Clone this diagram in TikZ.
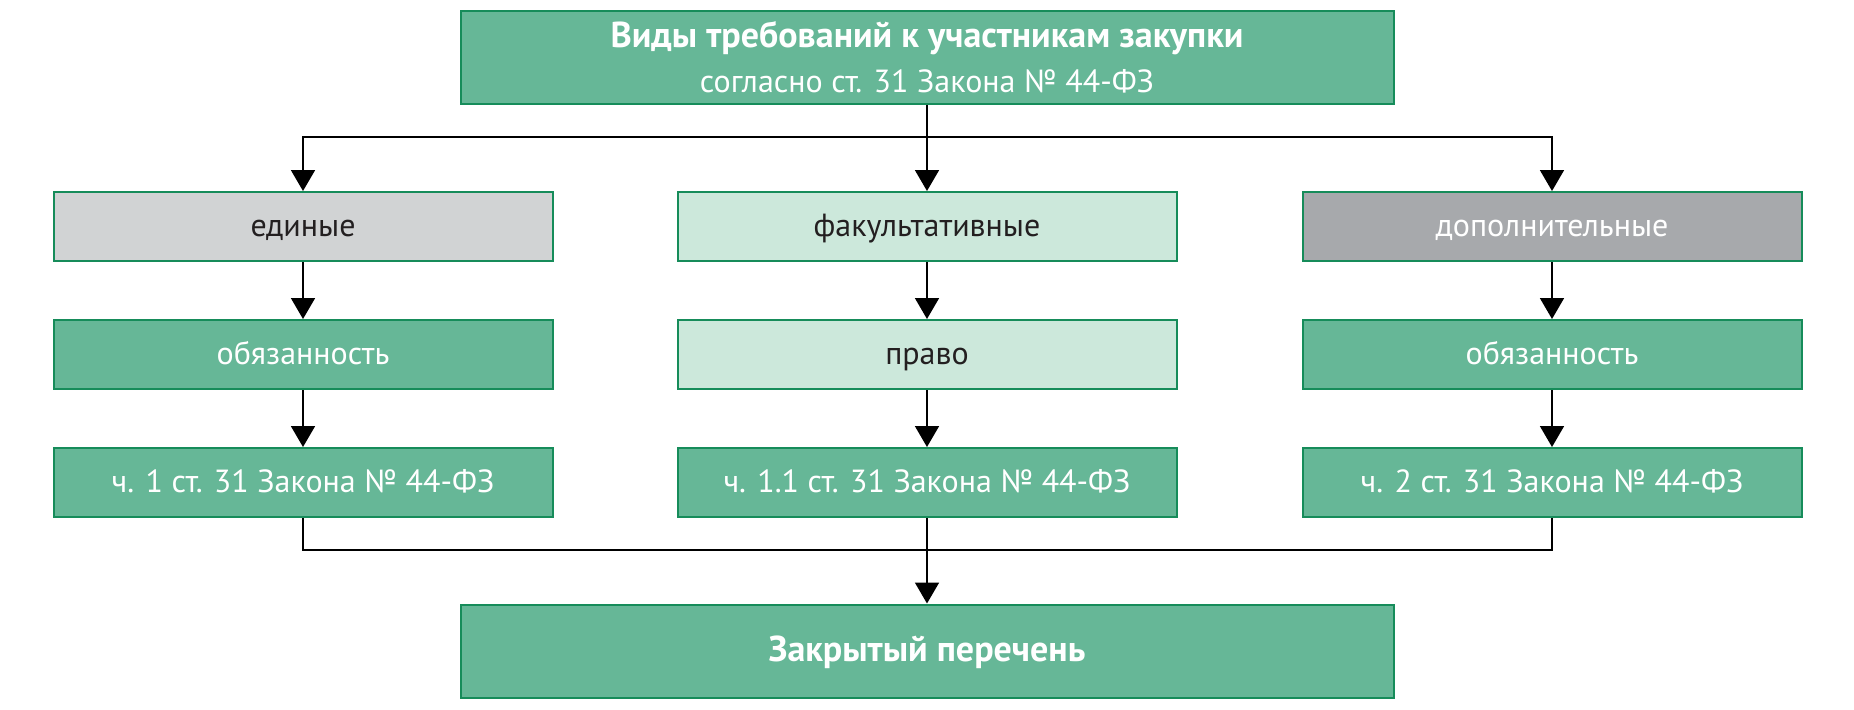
\documentclass[tikz,border=0pt]{standalone}
\usepackage{fontspec}
\setmainfont{PT Sans}
\usetikzlibrary{arrows.meta}
\definecolor{zelen}{RGB}{102,183,151}
\definecolor{kant}{RGB}{22,140,90}
\definecolor{svetl}{RGB}{204,232,219}
\definecolor{sery}{RGB}{209,211,212}
\definecolor{temn}{RGB}{167,169,172}
\definecolor{chern}{RGB}{35,31,32}
\begin{document}
\begin{tikzpicture}[x=0.5pt,y=0.5pt,yscale=-1,xscale=1,
	ramka/.style={draw=kant,line width=1pt,minimum width=249.5pt,minimum height=34.5pt,inner sep=0pt,font=\fontsize{16}{22.5}\selectfont},
	box/.style={ramka,text height=12pt,text depth=2pt},
	zbox/.style={fill=zelen,text=white},
	lbox/.style={fill=svetl,text=chern},
	gbox/.style={fill=sery,text=chern},
	dbox/.style={fill=temn,text=white},
	wide/.style={minimum width=466.5pt,minimum height=46.5pt},
	arr/.style={line width=0.9pt,-{Triangle[width=12pt,length=10.5pt]}},
	lin/.style={line width=0.9pt}]
	\useasboundingbox (0,0) rectangle (1854,709);
	\node (vidy) at (927,57) [ramka,zbox,wide,align=center] {{\fontsize{18}{22.5}\selectfont\bfseries Виды требований к участникам закупки}\\согласно ст. 31 Закона № 44-ФЗ};
	\node (edin) at (303,226.5) [box,gbox] {единые};
	\node (fakt) at (927,226.5) [box,lbox] {факультативные};
	\node (dop) at (1552,226.5) [box,dbox] {дополнительные};
	\node (obyaz1) at (303,354.5) [box,zbox] {обязанность};
	\node (pravo) at (927,354.5) [box,lbox] {право};
	\node (obyaz2) at (1552,354.5) [box,zbox] {обязанность};
	\node (chast1) at (303,482.5) [box,zbox] {ч. 1 ст. 31 Закона № 44-ФЗ};
	\node (chast11) at (927,482.5) [box,zbox] {ч. 1.1 ст. 31 Закона № 44-ФЗ};
	\node (chast2) at (1552,482.5) [box,zbox] {ч. 2 ст. 31 Закона № 44-ФЗ};
	\node (perech) at (927,651) [box,zbox,wide,font=\fontsize{18}{22.5}\selectfont\bfseries] {Закрытый перечень};
	\coordinate (razv) at (vidy.south |- 0,137);
	\coordinate (sbor) at (perech.north |- 0,550);
	\draw [arr] (vidy.south) -- (fakt.north);
	\draw [arr] (razv) -| (edin.north);
	\draw [arr] (razv) -| (dop.north);
	\draw [arr] (edin) -- (obyaz1);
	\draw [arr] (fakt) -- (pravo);
	\draw [arr] (dop) -- (obyaz2);
	\draw [arr] (obyaz1) -- (chast1);
	\draw [arr] (pravo) -- (chast11);
	\draw [arr] (obyaz2) -- (chast2);
	\draw [lin] (chast1.south) |- (sbor);
	\draw [lin] (chast2.south) |- (sbor);
	\draw [arr] (chast11.south) -- (perech.north);
\end{tikzpicture}
\end{document}
